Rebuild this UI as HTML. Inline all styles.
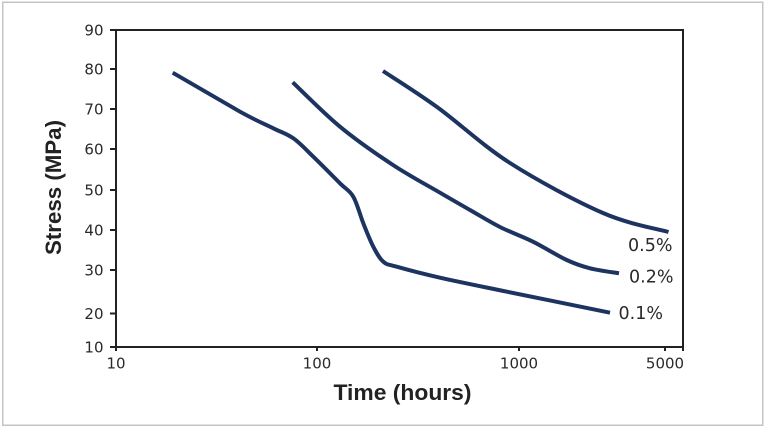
<!DOCTYPE html>
<html>
<head>
<meta charset="utf-8">
<style>
  html, body { margin: 0; padding: 0; background: #ffffff; }
  svg { display: block; }
</style>
</head>
<body>
<svg width="768" height="429" viewBox="0 0 768 429" xmlns="http://www.w3.org/2000/svg">
  <!-- outer border -->
  <rect x="2.75" y="2.25" width="760" height="423" fill="#ffffff" stroke="#c4c4c4" stroke-width="1.5"/>

  <!-- plot frame -->
  <g stroke="#222222" stroke-width="2" fill="none">
    <line x1="116" y1="30" x2="683" y2="30"/>
    <line x1="116" y1="347" x2="683" y2="347"/>
    <line x1="116" y1="29" x2="116" y2="351"/>
    <line x1="683" y1="29" x2="683" y2="351"/>
    <!-- y ticks -->
    <line x1="110" y1="30" x2="116" y2="30"/>
    <line x1="110" y1="69" x2="116" y2="69"/>
    <line x1="110" y1="109" x2="116" y2="109"/>
    <line x1="110" y1="149" x2="116" y2="149"/>
    <line x1="110" y1="190" x2="116" y2="190"/>
    <line x1="110" y1="230" x2="116" y2="230"/>
    <line x1="110" y1="270" x2="116" y2="270"/>
    <line x1="110" y1="313.5" x2="116" y2="313.5"/>
    <line x1="110" y1="347" x2="116" y2="347"/>
    <!-- x ticks -->
    <line x1="317" y1="347" x2="317" y2="351"/>
    <line x1="519" y1="347" x2="519" y2="351"/>
    <line x1="665" y1="347" x2="665" y2="351"/>
  </g>

  <!-- y tick labels -->
  <g font-family="'DejaVu Sans', 'Liberation Sans', sans-serif" font-size="15" fill="#2a2a2a" text-anchor="end">
    <text x="103.5" y="35.5">90</text>
    <text x="103.5" y="74.5">80</text>
    <text x="103.5" y="114.5">70</text>
    <text x="103.5" y="154.5">60</text>
    <text x="103.5" y="195.5">50</text>
    <text x="103.5" y="235.5">40</text>
    <text x="103.5" y="275.5">30</text>
    <text x="103.5" y="319">20</text>
    <text x="103.5" y="352.5">10</text>
  </g>

  <!-- x tick labels -->
  <g font-family="'DejaVu Sans', 'Liberation Sans', sans-serif" font-size="15" fill="#2a2a2a" text-anchor="middle">
    <text x="116" y="368.5">10</text>
    <text x="317" y="368.5">100</text>
    <text x="519" y="368.5">1000</text>
    <text x="665" y="368.5">5000</text>
  </g>

  <!-- axis titles -->
  <text x="402.5" y="400" font-family="'Liberation Sans', sans-serif" font-weight="bold" font-size="22" fill="#222222" text-anchor="middle" textLength="138" lengthAdjust="spacingAndGlyphs">Time (hours)</text>
  <text transform="translate(61,187.5) rotate(-90)" x="0" y="0" font-family="'Liberation Sans', sans-serif" font-weight="bold" font-size="22" fill="#222222" text-anchor="middle" textLength="135" lengthAdjust="spacingAndGlyphs">Stress (MPa)</text>

  <!-- curves -->
  <g fill="none" stroke="#1d3461" stroke-width="4" stroke-linecap="butt" stroke-linejoin="round">
    <!-- 0.1% -->
    <path d="M172.7,72.7 L240,111.7
             C256.8,121 264.4,123.9 273.3,128.3
             C282.2,132.7 286.6,133.6 293.3,138.3
             C300,143 305.5,149.2 313.3,156.7
             C321.1,164.2 333.3,176.6 340,183.3
             C346.7,190 349.4,190 353.3,196.7
             C357.2,203.4 360,215 363.3,223.3
             C366.6,231.6 370,240.3 373.3,246.7
             C376.6,253.1 379.4,258.4 383.3,261.7
             C387.2,265 387.2,264 396.7,266.7
             C406.2,269.4 421.6,273.5 440,277.7
             C458.4,281.9 478.7,285.9 507,291.7
             C535.3,297.5 592.8,309.2 610,312.7"/>
    <!-- 0.2% -->
    <path d="M292.7,82.3
             C300.6,89.7 323.3,112.9 340,126.7
             C356.7,140.5 376.3,154 393,165
             C409.7,176 427.2,185.2 440,192.7
             C452.8,200.2 460,204.3 470,210
             C480,215.7 489.5,221.7 500,227
             C510.5,232.3 521.9,236.2 533,241.7
             C544.1,247.2 557.2,255.6 566.7,260
             C576.2,264.4 581.3,266.1 590,268.3
             C598.7,270.5 614.2,272.5 619,273.3"/>
    <!-- 0.5% -->
    <path d="M383,71
             C392,77 415.8,91.7 437,107
             C458.2,122.3 482.3,145.3 510,163
             C537.7,180.7 576.6,201.5 603,213
             C629.4,224.5 657.6,228.8 668.5,232"/>
  </g>

  <!-- curve labels -->
  <g font-family="'DejaVu Sans', 'Liberation Sans', sans-serif" font-size="17.5" fill="#2a2a2a">
    <text x="628" y="251">0.5%</text>
    <text x="629" y="282.5">0.2%</text>
    <text x="618.5" y="319">0.1%</text>
  </g>
</svg>
</body>
</html>
